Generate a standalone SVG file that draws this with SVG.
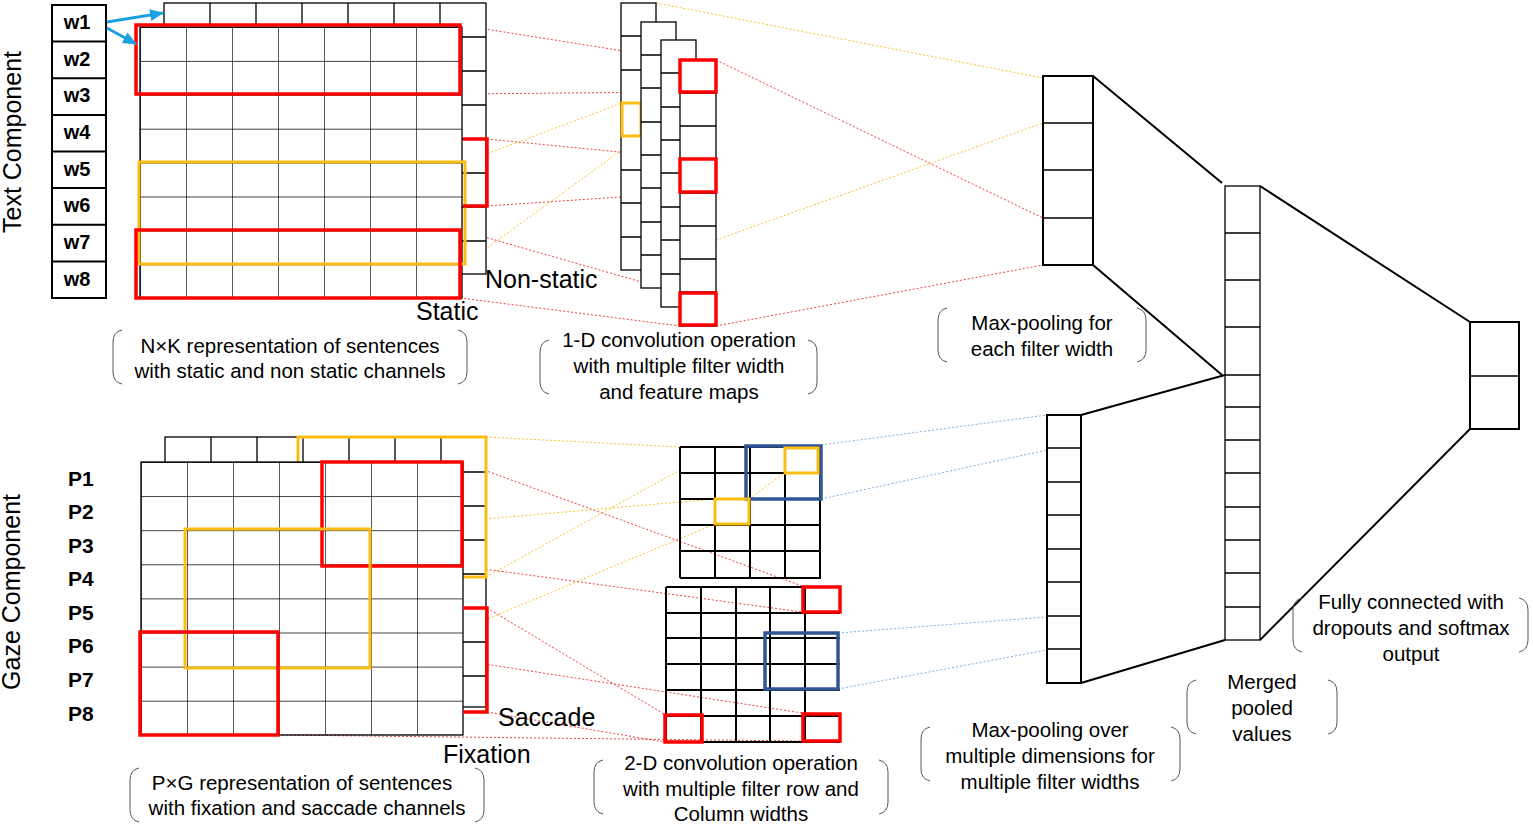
<svg xmlns="http://www.w3.org/2000/svg" width="1533" height="825" viewBox="0 0 1533 825">
<defs>
<style>
.g{fill:#fff;stroke:#000;stroke-width:1.3}
.l{fill:none;stroke:#000;stroke-width:1.3}
.gb{fill:#fff;stroke:#000;stroke-width:2}
.lb2{fill:none;stroke:#000;stroke-width:2}
.red{fill:none;stroke:#f00;stroke-width:3.5}
.yel{fill:none;stroke:#fbbd14;stroke-width:3}
.blu{fill:none;stroke:#2f5597;stroke-width:3.5}
.dr{stroke:#f04040;stroke-width:1;stroke-dasharray:2 2;fill:none}
.dy{stroke:#fbc030;stroke-width:1;stroke-dasharray:2 2;fill:none}
.db{stroke:#7fb0e0;stroke-width:1;stroke-dasharray:2 2;fill:none}
.br{fill:none;stroke:#555;stroke-width:1}
.arw{stroke:#1ba1e2;stroke-width:3;fill:none;marker-end:url(#ar)}
text{font-family:"Liberation Sans",Arial,sans-serif;fill:#000}
.lb{font-size:20.5px;text-anchor:middle}
.w{font-size:20px;font-weight:bold;text-anchor:middle}
.p{font-size:21px;font-weight:bold}
.big{font-size:25px}
</style>
<pattern id="tg" x="140" y="27" width="46" height="33.9" patternUnits="userSpaceOnUse"><path d="M0 0H46M0 0V33.9" fill="none" stroke="#000" stroke-width="1.3"/></pattern>
<pattern id="gg" x="141" y="462" width="46" height="34.1" patternUnits="userSpaceOnUse"><path d="M0 0H46M0 0V34.1" fill="none" stroke="#000" stroke-width="1.3"/></pattern>
<marker id="ar" markerUnits="userSpaceOnUse" markerWidth="14" markerHeight="12" refX="13" refY="6" orient="auto"><path d="M0 0L14 6L0 12z" fill="#1ba1e2"/></marker>
</defs>
<rect width="1533" height="825" fill="#fff"/>

<g id="connectors">
<path class="dy" d="M656 3L1043 78M465 162L622 103M465 264L641 136M716 240L1043 123"/>
<path class="dr" d="M460 25L680 60M460 94L680 92M487 139L680 158M487 206L680 193M460 230L680 293M460 298L680 326M716 60L1043 218M716 326L1043 265"/>
<path class="dy" d="M486 437L680 447M370 529L715 499M370 668L715 524M486 577L680 470M749 499L784 473"/>
<path class="dr" d="M462 462L802 586M462 566L802 612M278 632L802 713M487 608L664 714M487 712L664 742M278 735L802 741"/>
<path class="db" d="M821 445L1047 415M821 499L1047 450M838 633L1047 617M838 689L1047 650"/>
<path class="lb2" d="M1093 76L1222 183M1093 265L1222 375M1081 415L1225 375M1081 683L1225 640M1260 186L1470 322M1260 640L1470 429"/>
</g>

<g id="words">
<rect x="52" y="5" width="54" height="293" fill="#fff" stroke="#000" stroke-width="2"/>
<path class="lb2" d="M52 41.6H106M52 78.2H106M52 114.9H106M52 151.5H106M52 188.1H106M52 224.8H106M52 261.4H106M106 5V298" stroke-width="2.5"/>
<text class="w" x="77" y="29">w1</text><text class="w" x="77" y="66">w2</text><text class="w" x="77" y="102">w3</text><text class="w" x="77" y="139">w4</text><text class="w" x="77" y="176">w5</text><text class="w" x="77" y="212">w6</text><text class="w" x="77" y="249">w7</text><text class="w" x="77" y="286">w8</text>
</g>

<g id="text-grid">
<rect x="164" y="3" width="322" height="271" class="g"/>
<path class="l" d="M210 3V27M256 3V27M302 3V27M348 3V27M394 3V27M440 3V27M462 37H486M462 71H486M462 105H486M462 139H486M462 173H486M462 207H486M462 241H486"/>
<rect x="140" y="27" width="322" height="271" fill="#fff"/>
<rect x="140" y="27" width="322" height="271" fill="url(#tg)" stroke="#000" stroke-width="1.3"/>
<rect x="136" y="25" width="324" height="69" class="red"/>
<rect x="139" y="162" width="326" height="102" class="yel"/>
<rect x="136" y="230" width="324" height="68" class="red"/>
<path class="red" d="M463 139H487V206H463"/>
<text class="big" x="485" y="288">Non-static</text>
<text class="big" x="416" y="320">Static</text>
<text class="big" transform="translate(21 142) rotate(-90)" text-anchor="middle">Text Component</text>
</g>

<g id="word-arrows">
<path class="arw" d="M107 22L163 13"/>
<path class="arw" d="M107 28L136 44"/>
</g>

<g id="conv1d">
<rect x="621" y="3" width="35" height="267" class="g"/>
<path class="l" d="M621 36H656M621 70H656M621 103H656M621 136H656M621 170H656M621 203H656M621 237H656"/>
<rect x="622" y="103" width="19" height="33" class="yel"/>
<rect x="641" y="22" width="35" height="266" class="g"/>
<path class="l" d="M641 55H676M641 88H676M641 122H676M641 155H676M641 188H676M641 222H676M641 255H676"/>
<rect x="661" y="40" width="35" height="267" class="g"/>
<path class="l" d="M661 73H696M661 107H696M661 140H696M661 173H696M661 207H696M661 240H696M661 274H696"/>
<rect x="680" y="60" width="36" height="266" class="g"/>
<path class="l" d="M680 93H716M680 126H716M680 159H716M680 193H716M680 226H716M680 259H716M680 292H716"/>
<rect x="680" y="60" width="36" height="32" class="red"/>
<rect x="680" y="159" width="36" height="33" class="red"/>
<rect x="680" y="293" width="36" height="32" class="red"/>
</g>

<g id="maxpool-text">
<rect x="1043" y="76" width="50" height="189" class="gb"/>
<path class="l" d="M1043 123H1093M1043 170H1093M1043 218H1093"/>
</g>

<g id="merged">
<rect x="1225" y="186" width="35" height="454" class="g"/>
<path class="l" d="M1225 233H1260M1225 280H1260M1225 327H1260M1225 375H1260M1225 407H1260M1225 440H1260M1225 473H1260M1225 507H1260M1225 540H1260M1225 573H1260M1225 607H1260"/>
</g>

<g id="output">
<rect x="1470" y="322" width="49" height="107" class="gb"/>
<path class="l" d="M1470 376H1519"/>
</g>

<g id="maxpool-gaze">
<rect x="1047" y="415" width="34" height="268" class="gb"/>
<path class="l" d="M1047 448H1081M1047 482H1081M1047 515H1081M1047 549H1081M1047 582H1081M1047 616H1081M1047 649H1081"/>
</g>

<g id="gaze-grid">
<rect x="165" y="437" width="321" height="270" class="g"/>
<path class="l" d="M211 437V462M257 437V462M303 437V462M349 437V462M395 437V462M441 437V462M463 472H486M463 506H486M463 540H486M463 574H486M463 608H486M463 642H486M463 676H486"/>
<path class="yel" d="M298 462V437H486V577H463"/>
<rect x="141" y="462" width="322" height="273" fill="#fff"/>
<rect x="141" y="462" width="322" height="273" fill="url(#gg)" stroke="#000" stroke-width="1.3"/>
<rect x="322" y="462" width="140" height="104" class="red"/>
<rect x="185" y="529" width="185" height="139" class="yel"/>
<rect x="140" y="632" width="138" height="103" class="red"/>
<path class="red" d="M463 608H487V712H463"/>
<g class="p"><text x="68" y="486">P1</text><text x="68" y="519">P2</text><text x="68" y="553">P3</text><text x="68" y="586">P4</text><text x="68" y="620">P5</text><text x="68" y="653">P6</text><text x="68" y="687">P7</text><text x="68" y="721">P8</text></g>
<text class="big" x="498" y="726">Saccade</text>
<text class="big" x="443" y="763">Fixation</text>
<text class="big" transform="translate(20 592) rotate(-90)" text-anchor="middle">Gaze Component</text>
</g>

<g id="conv2d-a">
<path class="lb2" d="M680 447V578M715 447V578M750 447V578M785 447V578M820 447V578M680 447H821M680 473H821M680 499H821M680 525H821M680 551H821M680 578H821"/>
<rect x="746" y="446" width="75" height="53" class="blu"/>
<rect x="785" y="448" width="33" height="25" class="yel"/>
<rect x="715" y="499" width="34" height="25" class="yel"/>
</g>

<g id="conv2d-b">
<path class="lb2" d="M666 587V742M701 587V742M736 587V742M770 587V742M805 587V742M666 587H840M666 613H840M666 638H840M666 664H840M666 690H840M666 716H840M666 742H840"/>
<rect x="803" y="587" width="37" height="25" class="red"/>
<rect x="765" y="633" width="73" height="56" class="blu"/>
<rect x="665" y="715" width="37" height="27" class="red"/>
<rect x="803" y="714" width="37" height="27" class="red"/>
</g>

<g id="labels">
<path class="br" d="M122 330Q113 332 113 342V372Q113 382 122 384M458 330Q467 332 467 342V372Q467 382 458 384"/>
<text class="lb" x="290" y="353">N×K representation of sentences</text>
<text class="lb" x="290" y="378">with static and non static channels</text>
<path class="br" d="M549 340Q540 342 540 352V382Q540 392 549 394M808 340Q817 342 817 352V382Q817 392 808 394"/>
<text class="lb" x="679" y="347">1-D convolution operation</text>
<text class="lb" x="679" y="373">with multiple filter width</text>
<text class="lb" x="679" y="399">and feature maps</text>
<path class="br" d="M947 308Q938 310 938 320V350Q938 360 947 362M1137 308Q1146 310 1146 320V350Q1146 360 1137 362"/>
<text class="lb" x="1042" y="330">Max-pooling for</text>
<text class="lb" x="1042" y="356">each filter width</text>
<path class="br" d="M139 768Q130 770 130 780V810Q130 820 139 822M475 768Q484 770 484 780V810Q484 820 475 822"/>
<text class="lb" x="302" y="790">P×G representation of sentences</text>
<text class="lb" x="307" y="815">with fixation and saccade channels</text>
<path class="br" d="M603 760Q594 762 594 772V802Q594 812 603 814M879 760Q888 762 888 772V802Q888 812 879 814"/>
<text class="lb" x="741" y="770">2-D convolution operation</text>
<text class="lb" x="741" y="796">with multiple filter row and</text>
<text class="lb" x="741" y="821">Column widths</text>
<path class="br" d="M930 727Q921 729 921 739V769Q921 779 930 781M1171 727Q1180 729 1180 739V769Q1180 779 1171 781"/>
<text class="lb" x="1050" y="737">Max-pooling over</text>
<text class="lb" x="1050" y="763">multiple dimensions for</text>
<text class="lb" x="1050" y="789">multiple filter widths</text>
<path class="br" d="M1196 680Q1187 682 1187 692V722Q1187 732 1196 734M1328 680Q1337 682 1337 692V722Q1337 732 1328 734"/>
<text class="lb" x="1262" y="689">Merged</text>
<text class="lb" x="1262" y="715">pooled</text>
<text class="lb" x="1262" y="741">values</text>
<path class="br" d="M1302 598Q1293 600 1293 610V640Q1293 650 1302 652M1519 598Q1528 600 1528 610V640Q1528 650 1519 652"/>
<text class="lb" x="1411" y="609">Fully connected with</text>
<text class="lb" x="1411" y="635">dropouts and softmax</text>
<text class="lb" x="1411" y="661">output</text>
</g>
</svg>
